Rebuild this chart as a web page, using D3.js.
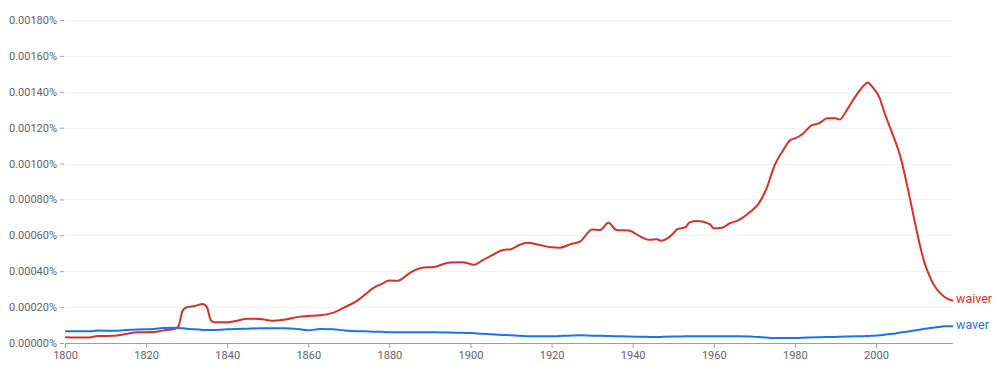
<!DOCTYPE html>
<html>
<head>
<meta charset="utf-8">
<script src="https://cdn.jsdelivr.net/npm/d3@7"></script>
<style>
  html, body { margin: 0; padding: 0; background: #fff; }
  svg { display: block; font-family: Roboto, "Noto Sans", sans-serif; }
</style>
</head>
<body>
<svg id="chart" width="1000" height="367"></svg>
<script>
// ---- data ----
const years = [1800,1803,1806,1808,1812,1815,1818,1822,1824,1827,1828,1829,1830,1832,1834,1835,1836,1837,1840,1842,1845,1848,1851,1854,1858,1860,1863,1866,1869,1872,1874,1876,1878,1880,1882,1885,1888,1891,1895,1898,1901,1903,1905,1908,1910,1912,1914,1917,1920,1922,1925,1927,1930,1932,1934,1936,1939,1942,1944,1946,1947,1950,1951,1953,1954,1956,1959,1960,1962,1964,1966,1969,1971,1973,1975,1977,1979,1980,1982,1984,1986,1988,1990,1991,1993,1995,1997,1998,1999,2001,2002,2004,2006,2008,2010,2011,2012,2013,2014,2015,2016,2017,2019];
const waiver = [0.000032,0.000031,0.000031,0.000039,0.000040,0.000050,0.000060,0.000061,0.000069,0.000078,0.000095,0.000180,0.000199,0.000206,0.000217,0.000200,0.000125,0.000115,0.000116,0.000122,0.000135,0.000134,0.000124,0.000130,0.000147,0.000150,0.000155,0.000168,0.000200,0.000235,0.000270,0.000306,0.000328,0.000348,0.000347,0.000390,0.000420,0.000424,0.000449,0.000450,0.000436,0.000462,0.000485,0.000518,0.000523,0.000546,0.000559,0.000546,0.000533,0.000531,0.000553,0.000565,0.000633,0.000630,0.000670,0.000630,0.000627,0.000592,0.000575,0.000578,0.000570,0.000610,0.000635,0.000645,0.000672,0.000680,0.000663,0.000639,0.000642,0.000668,0.000683,0.000731,0.000775,0.000860,0.000990,0.001070,0.001133,0.001140,0.001166,0.001212,0.001225,0.001252,0.001252,0.001245,0.001305,0.001376,0.001435,0.001452,0.001430,0.001360,0.001290,0.001170,0.001040,0.000845,0.000630,0.000530,0.000445,0.000385,0.000335,0.000300,0.000275,0.000255,0.000235];
const waver = [0.000065,0.000066,0.000065,0.000069,0.000068,0.000072,0.000075,0.000078,0.000083,0.000085,0.000084,0.000082,0.000080,0.000076,0.000073,0.000072,0.000072,0.000073,0.000076,0.000078,0.000080,0.000082,0.000082,0.000082,0.000076,0.000071,0.000078,0.000077,0.000070,0.000066,0.000065,0.000063,0.000062,0.000060,0.000060,0.000060,0.000060,0.000060,0.000058,0.000057,0.000054,0.000052,0.000049,0.000045,0.000043,0.000040,0.000038,0.000037,0.000037,0.000039,0.000042,0.000043,0.000041,0.000040,0.000039,0.000038,0.000036,0.000035,0.000034,0.000033,0.000034,0.000036,0.000036,0.000037,0.000037,0.000037,0.000037,0.000037,0.000037,0.000037,0.000037,0.000036,0.000033,0.000030,0.000028,0.000028,0.000028,0.000028,0.000029,0.000031,0.000032,0.000033,0.000034,0.000035,0.000036,0.000037,0.000038,0.000039,0.000040,0.000043,0.000046,0.000051,0.000058,0.000064,0.000071,0.000075,0.000079,0.000082,0.000085,0.000088,0.000091,0.000093,0.000093];
const seriesNames = ["waiver", "waver"];
const seriesColors = ["#d93025", "#1a73e8"];
const yTicks = [0, 0.0002, 0.0004, 0.0006, 0.0008, 0.0010, 0.0012, 0.0014, 0.0016, 0.0018];
const xTicks = [1800, 1820, 1840, 1860, 1880, 1900, 1920, 1940, 1960, 1980, 2000];

(function () {
  const svg = d3.select("#chart");
  const mLeft = 65, mRight = 953, mTop = 20, mBottom = 343;
  const x = d3.scaleLinear().domain([1800, 2019]).range([mLeft, mRight]);
  const y = d3.scaleLinear().domain([0, 0.0018]).range([mBottom, mTop]);

  // gridlines
  svg.append("g")
    .selectAll("line").data(yTicks.filter(d => d > 0)).join("line")
    .attr("x1", mLeft).attr("x2", mRight)
    .attr("y1", d => Math.round(y(d)) + 0.5).attr("y2", d => Math.round(y(d)) + 0.5)
    .attr("stroke", "#f1f1f1").attr("stroke-width", 1);

  // y axis
  const yAxis = d3.axisLeft(y).tickValues(yTicks).tickSize(5).tickPadding(3)
    .tickFormat(d => d3.format(".5f")(d) + "%");
  const gy = svg.append("g").attr("transform", `translate(${mLeft},0)`).call(yAxis);
  gy.select(".domain").remove();
  gy.selectAll(".tick line").attr("stroke", "#9aa0a6").attr("x1", -5).attr("x2", -1);
  gy.selectAll(".tick text").attr("fill", "#5f6368").attr("font-size", 11).attr("font-family", "Roboto");

  // x axis
  const xAxis = d3.axisBottom(x).tickValues(xTicks).tickSize(5).tickPadding(3).tickFormat(d3.format("d"));
  const gx = svg.append("g").attr("transform", `translate(0,${mBottom})`).call(xAxis);
  gx.select(".domain").attr("stroke", "#9aa0a6").attr("d", `M${mLeft},0.5H${mRight}`);
  gx.selectAll(".tick line").attr("stroke", "#9aa0a6");
  gx.selectAll(".tick text").attr("fill", "#5f6368").attr("font-size", 11).attr("font-family", "Roboto");

  // lines
  const allSeries = [waiver, waver];
  const line = d3.line().x((d, i) => x(years[i])).y(d => y(d)).curve(d3.curveMonotoneX);
  allSeries.forEach((vals, k) => {
    svg.append("path").datum(vals)
      .attr("fill", "none")
      .attr("stroke", seriesColors[k])
      .attr("stroke-width", 2)
      .attr("stroke-linejoin", "round")
      .attr("d", line);
    svg.append("text")
      .attr("x", x(years[years.length - 1]) + 3)
      .attr("y", y(vals[vals.length - 1]) - 2)
      .attr("dy", "0.35em")
      .attr("fill", seriesColors[k])
      .attr("font-size", 12.5)
      .attr("font-family", "Roboto")
      .text(seriesNames[k]);
  });
})();
</script>
</body>
</html>
